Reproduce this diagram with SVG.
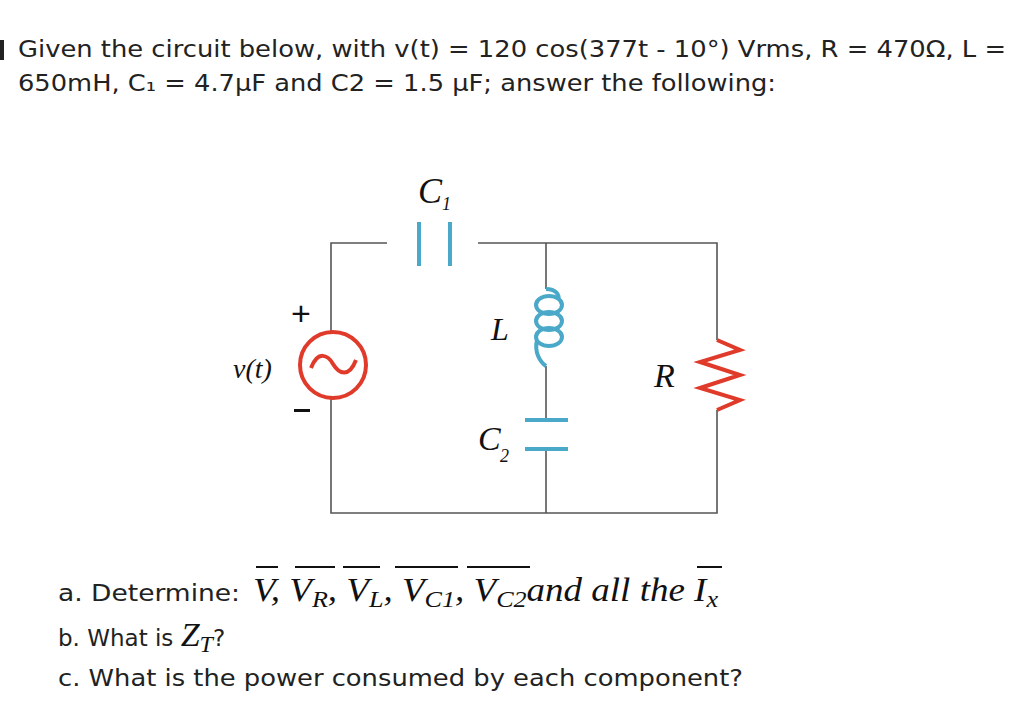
<svg xmlns="http://www.w3.org/2000/svg" width="1024" height="724" viewBox="0 0 1024 724">
<style>
.w{stroke:#555;stroke-width:1.6;fill:none}
.b{stroke:#4aa8c8;stroke-width:4;fill:none}
.r{stroke:#e03a2a;stroke-width:4;fill:none}
.t{font-family:"DejaVu Sans",sans-serif;font-size:23px;fill:#222}
.m{font-family:"Liberation Serif",serif;font-style:italic;fill:#111}
</style>
<rect width="1024" height="724" fill="#fff"/>
<text class="t" x="18" y="57" textLength="988" lengthAdjust="spacingAndGlyphs">Given the circuit below, with v(t) = 120 cos(377t - 10°) Vrms, R = 470Ω, L =</text>
<text class="t" x="18" y="91" textLength="758" lengthAdjust="spacingAndGlyphs">650mH, C₁ = 4.7μF and C2 = 1.5 μF; answer the following:</text>
<rect x="0" y="40" width="4" height="20" fill="#222"/>
<g id="wires" class="w">
<polyline points="387,243 331,243 331,331"/>
<polyline points="331,399 331,513 717,513 717,410"/>
<polyline points="478,243 717,243 717,340"/>
<line x1="546" y1="243" x2="546" y2="289"/>
<line x1="546" y1="366" x2="546" y2="420"/>
<line x1="546" y1="449" x2="546" y2="513"/>
</g>
<g id="C1"><line class="b" x1="419" y1="222" x2="419" y2="266"/><line class="b" x1="450" y1="222" x2="450" y2="266"/>
<text class="m" x="418" y="203" font-size="36">C</text><text class="m" x="442" y="210" font-size="18">1</text></g>
<g id="source"><circle class="r" cx="333" cy="365" r="33"/><path class="r" d="M311,368 C318,350 328,355 333,364 C339,374 349,378 356,360"/>
<text x="291" y="325" font-family="Liberation Sans,sans-serif" font-size="34" fill="#111">+</text>
<rect x="294" y="409" width="16" height="3" fill="#111"/>
<text class="m" x="233" y="378" font-size="28">v(t)</text></g>
<g id="L" class="b">
<path d="M546,289 C556,289 560,295 558,300"/>
<ellipse cx="549" cy="305" rx="13" ry="9"/>
<ellipse cx="549" cy="321" rx="13" ry="9"/>
<ellipse cx="549" cy="337" rx="13" ry="9"/>
<path d="M537,340 C534,352 540,362 546,366"/>
<text class="m" x="491" y="340" font-size="32" stroke="none" fill="#111">L</text></g>
<g id="C2"><line class="b" x1="525" y1="420" x2="568" y2="420"/><line class="b" x1="525" y1="449" x2="568" y2="449"/>
<text class="m" x="478" y="450" font-size="34">C</text><text class="m" x="500" y="462" font-size="18">2</text></g>
<g id="R"><polyline class="r" points="717,340 740,350 700,362 740,375 700,388 740,400 717,410"/>
<text class="m" x="654" y="387" font-size="34">R</text></g>
<g id="q">
<text class="t" x="58" y="601" textLength="182" lengthAdjust="spacingAndGlyphs">a. Determine:</text>
<text class="m" x="253" y="601" font-size="34" textLength="465" lengthAdjust="spacingAndGlyphs">V, V<tspan font-size="24" dy="6">R</tspan><tspan dy="-6">, V</tspan><tspan font-size="24" dy="6">L</tspan><tspan dy="-6">, V</tspan><tspan font-size="24" dy="6">C1</tspan><tspan dy="-6">, V</tspan><tspan font-size="24" dy="6">C2</tspan><tspan dy="-6">and all the I</tspan><tspan font-size="24" dy="6">x</tspan></text>
<g stroke="#111" stroke-width="2"><line x1="256" y1="567" x2="278" y2="567"/><line x1="295" y1="567" x2="335" y2="567"/><line x1="343" y1="567" x2="380" y2="567"/><line x1="395" y1="567" x2="458" y2="567"/><line x1="467" y1="567" x2="530" y2="567"/><line x1="697" y1="567" x2="722" y2="567"/></g>
<text class="t" x="58" y="646">b. What is <tspan class="m" font-size="34">Z</tspan><tspan class="m" font-size="24" dy="6">T</tspan><tspan dy="-6">?</tspan></text>
<text class="t" x="58" y="686" textLength="685" lengthAdjust="spacingAndGlyphs">c.  What is the power consumed by each component?</text>
</g>
</svg>
